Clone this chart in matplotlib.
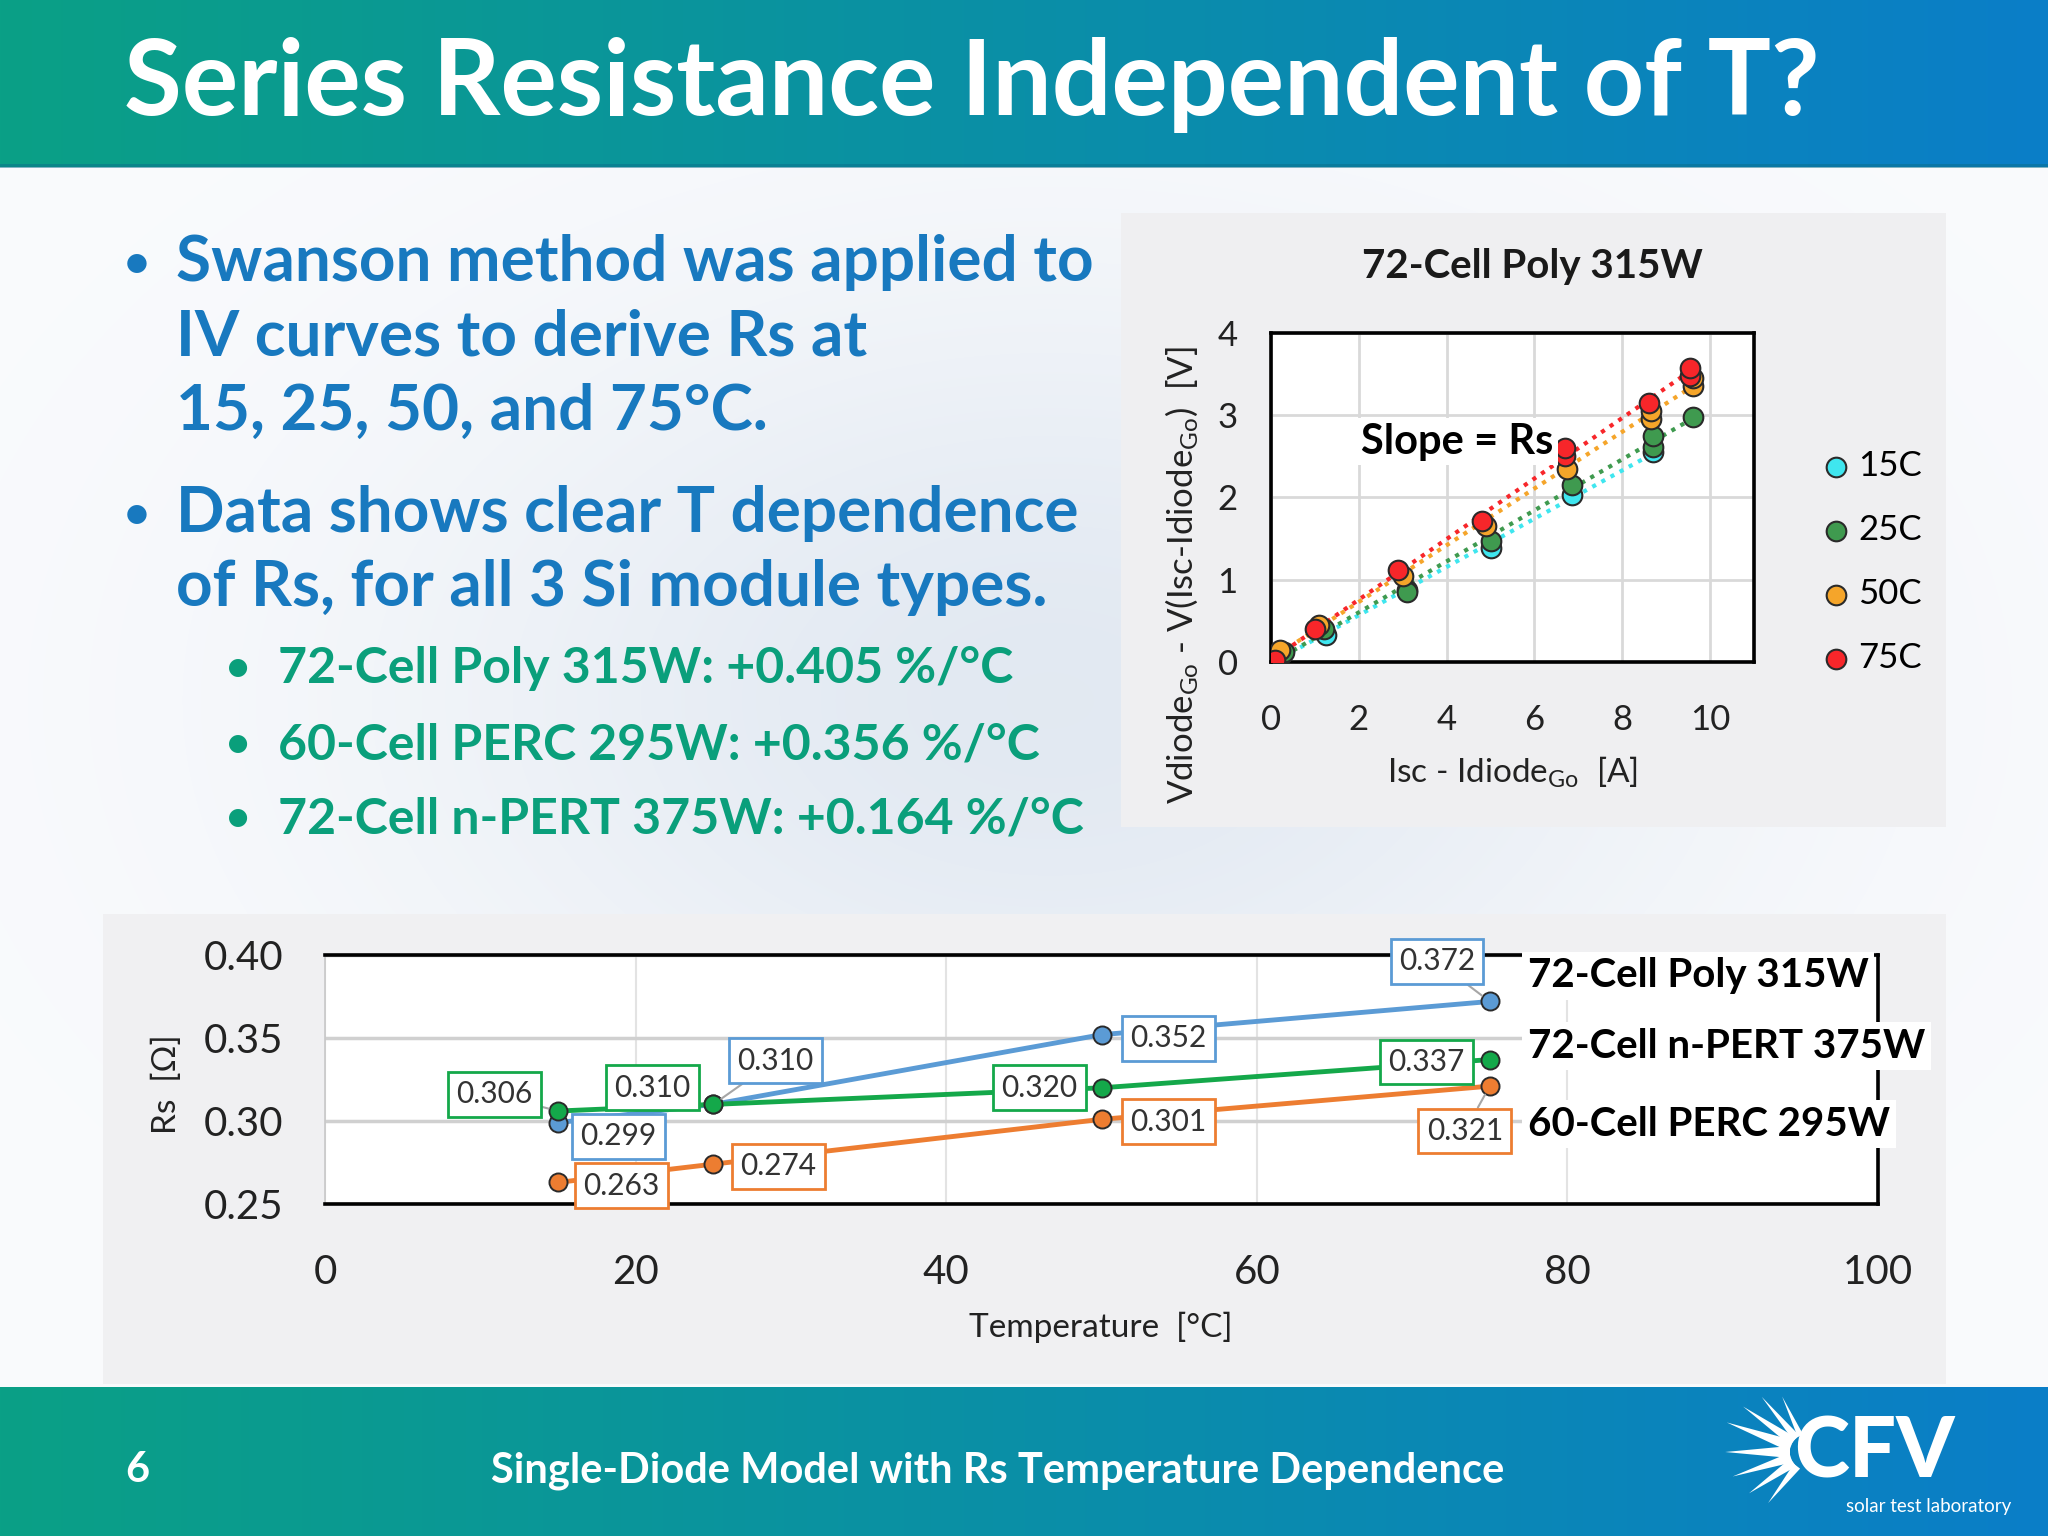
import numpy as np
import matplotlib
matplotlib.use("Agg")
import matplotlib.pyplot as plt
from matplotlib.patches import Rectangle, Polygon

plt.rcParams['font.family'] = ['Lato', 'DejaVu Sans']
plt.rcParams['mathtext.fontset'] = 'custom'
plt.rcParams['mathtext.rm'] = 'Lato'
plt.rcParams['mathtext.it'] = 'Lato:italic'
plt.rcParams['mathtext.bf'] = 'Lato:bold'

W, H = 2048, 1536

# ---------------- text content ----------------
slide_title = "Series Resistance Independent of T?"
main_bullets = [["Swanson method was applied to", "IV curves to derive Rs at", "15, 25, 50, and 75°C."],
                ["Data shows clear T dependence", "of Rs, for all 3 Si module types."]]
sub_bullets = ["72-Cell Poly 315W: +0.405 %/°C",
               "60-Cell PERC 295W: +0.356 %/°C",
               "72-Cell n-PERT 375W: +0.164 %/°C"]
footer_num = "6"
footer_text = "Single-Diode Model with Rs Temperature Dependence"

# ---------------- Swanson plot data (72-Cell Poly 315W) ----------------
sw_title = "72-Cell Poly 315W"
sw_labels = ["15C", "25C", "50C", "75C"]
sw_x15 = [0.25, 1.25, 3.1, 5.0, 6.85, 8.7]
sw_y15 = [0.10, 0.33, 0.88, 1.38, 2.03, 2.55]
sw_x25 = [0.3, 1.2, 3.1, 5.0, 6.85, 8.7, 8.7, 9.6]
sw_y25 = [0.12, 0.40, 0.85, 1.47, 2.15, 2.62, 2.75, 2.98]
sw_x50 = [0.2, 1.1, 3.0, 4.9, 6.75, 8.65, 8.65, 9.6, 9.6]
sw_y50 = [0.15, 0.45, 1.05, 1.65, 2.35, 2.95, 3.05, 3.35, 3.45]
sw_x75 = [0.1, 1.0, 2.9, 4.8, 6.7, 6.7, 8.6, 9.55, 9.55]
sw_y75 = [0.03, 0.40, 1.12, 1.72, 2.50, 2.60, 3.15, 3.48, 3.57]

# ---------------- Rs vs temperature data ----------------
temps = [15, 25, 50, 75]
rs_poly = [0.299, 0.310, 0.352, 0.372]
rs_npert = [0.306, 0.310, 0.320, 0.337]
rs_perc = [0.263, 0.274, 0.301, 0.321]
series_names = ["72-Cell Poly 315W", "72-Cell n-PERT 375W", "60-Cell PERC 295W"]

# ---------------- layout / style ----------------
c_band_l = np.array([10, 160, 134]) / 255
c_band_r = np.array([10, 126, 200]) / 255
blue_txt = "#1879bf"
green_txt = "#0a9f7b"
sw_colors = ["#3fe6ef", "#3f9a4f", "#f5a52a", "#f7262a"]
rs_colors = ["#5b9bd5", "#14a84a", "#ed7d31"]

fig = plt.figure(figsize=(20.48, 15.36), dpi=100)

# background canvas in pixel coordinates
bg = fig.add_axes([0, 0, 1, 1], zorder=-5)
bg.set_axis_off()
bg.set_xlim(0, W)
bg.set_ylim(H, 0)
yy, xx = np.mgrid[0:H, 0:W].astype(float)
base = np.array([250, 251, 253]) / 255
tint = np.array([222, 230, 240]) / 255
g = np.exp(-(((xx - 1050) / 650) ** 2 + ((yy - 700) / 420) ** 2))
img = base[None, None, :] * (1 - g[..., None] * 0.85) + tint[None, None, :] * (g[..., None] * 0.85)
t = (xx / W)[..., None]
band = c_band_l * (1 - t) + c_band_r * t
img[0:167] = band[0:167]
img[1387:] = band[1387:]
bg.imshow(img, extent=(0, W, H, 0), aspect='auto', interpolation='bilinear')
bg.add_patch(Rectangle((0, 164), W, 4, color="#0b6f8a", alpha=0.5, lw=0))

# grey chart panels
bg.add_patch(Rectangle((1121, 213), 825, 614, facecolor="#efeff1", edgecolor="none"))
bg.add_patch(Rectangle((103, 914), 1843, 470, facecolor="#f0f0f2", edgecolor="none"))

# title
bg.text(124, 115, slide_title, color="white", fontsize=76, fontweight="bold", va="baseline", ha="left")

# bullets
main_baselines = [[281, 355, 430], [532, 606]]
for lines, bls in zip(main_bullets, main_baselines):
    bg.text(124, bls[0] - 4, "•", color=blue_txt, fontsize=32, fontweight="bold", va="baseline", ha="left")
    for ln, b in zip(lines, bls):
        bg.text(176, b, ln, color=blue_txt, fontsize=46, fontweight="bold", va="baseline", ha="left")
for ln, b in zip(sub_bullets, [683, 759, 833]):
    bg.text(226, b - 2, "•", color=green_txt, fontsize=30, fontweight="bold", va="baseline", ha="left")
    bg.text(278, b, ln, color=green_txt, fontsize=36, fontweight="bold", va="baseline", ha="left")

# footer
bg.text(125, 1482, footer_num, color="white", fontsize=30, fontweight="bold", va="baseline")
bg.text(998, 1482, footer_text, color="white", fontsize=30, fontweight="bold", va="baseline", ha="center")
# logo
rays = [(-160, 6, 1.9), (-145, 5, 1.7), (-130, 4, 1.5), (-180, 6, 1.8), (-198, 5, 1.7),
        (-215, 5, 1.5), (-232, 4, 1.3), (-115, 3, 1.2)]
cx, cy = 1808, 1452
for ang, wdt, rel in rays:
    a = np.deg2rad(ang)
    r0, r1 = 18, 18 + 36 * rel
    ux, uy = np.cos(a), np.sin(a)
    px, py = -uy, ux
    pts = [(cx + r0 * ux + wdt * px, cy + r0 * uy + wdt * py),
           (cx + r0 * ux - wdt * px, cy + r0 * uy - wdt * py),
           (cx + r1 * ux, cy + r1 * uy)]
    bg.add_patch(Polygon(pts, closed=True, facecolor="white", edgecolor="none"))
bg.text(1794, 1478, "CFV", color="white", fontsize=60, fontweight="black", va="baseline", ha="left")
bg.text(2011, 1512, "solar test laboratory", color="white", fontsize=13.5, va="baseline", ha="right")

# ---------------- Swanson chart ----------------
ax1 = fig.add_axes([1271 / W, 1 - 662 / H, 483 / W, 329 / H])
ax1.set_xlim(0, 11)
ax1.set_ylim(0, 4)
ax1.set_xticks([0, 2, 4, 6, 8, 10])
ax1.set_yticks([0, 1, 2, 3, 4])
ax1.grid(True, color="#d9d9d9", lw=2)
ax1.set_axisbelow(True)
for s in ax1.spines.values():
    s.set_color("black")
    s.set_linewidth(2.6)
ax1.tick_params(length=0, labelsize=25, colors="#222222")
ax1.tick_params(axis="x", pad=30)
ax1.tick_params(axis="y", pad=24)
handles = []
for xs, ys, col, lab in zip([sw_x15, sw_x25, sw_x50, sw_x75], [sw_y15, sw_y25, sw_y50, sw_y75],
                            sw_colors, sw_labels):
    xs = np.asarray(xs)
    ys = np.asarray(ys)
    p = np.polyfit(xs, ys, 1)
    xe = np.array([xs.min(), xs.max()])
    ax1.plot(xe, np.polyval(p, xe), ls=(0, (1, 1.5)), lw=3, color=col, zorder=2)
for xs, ys, col, lab in zip([sw_x15, sw_x25, sw_x50, sw_x75], [sw_y15, sw_y25, sw_y50, sw_y75],
                            sw_colors, sw_labels):
    h = ax1.scatter(xs, ys, s=200, color=col, edgecolors="#2a2a2a", linewidths=1.5, zorder=3, label=lab)
    handles.append(h)
ax1.text(2.05, 2.68, "Slope = Rs", fontsize=30, fontweight="bold", color="black", va="center", ha="left",
         bbox=dict(facecolor="white", edgecolor="none", pad=3), zorder=4)
bg.text(1532, 278, sw_title, fontsize=29, fontweight="bold", color="#1a1a1a", ha="center", va="baseline")
bg.text(1182, 575, r"Vdiode$_{\mathrm{Go}}$ - V(Isc-Idiode$_{\mathrm{Go}}$)  [V]", fontsize=25,
        rotation=90, ha="center", va="center", color="#222222")
bg.text(1512, 772, r"Isc - Idiode$_{\mathrm{Go}}$  [A]", fontsize=24, ha="center", va="center", color="#222222")
fig.legend(handles=handles, labels=sw_labels, loc="center left", bbox_to_anchor=(1806 / W, 1 - 562 / H),
           frameon=False, fontsize=25, handlelength=0.7, handletextpad=0.3, labelspacing=0.92,
           borderpad=0, markerscale=1.0)

# ---------------- Rs vs T chart ----------------
ax2 = fig.add_axes([325 / W, 1 - 1204 / H, 1553 / W, 249 / H])
ax2.set_xlim(0, 100)
ax2.set_ylim(0.25, 0.40)
ax2.set_xticks([0, 20, 40, 60, 80, 100])
ax2.set_yticks([0.25, 0.30, 0.35, 0.40])
ax2.set_yticklabels([f"{v:.2f}" for v in [0.25, 0.30, 0.35, 0.40]])
ax2.xaxis.grid(True, color="#e3e3e3", lw=1.5)
ax2.yaxis.grid(True, color="#d0d0d0", lw=2.5)
ax2.set_axisbelow(True)
for k in ["top", "right", "bottom"]:
    ax2.spines[k].set_color("black")
    ax2.spines[k].set_linewidth(2.6)
ax2.spines["left"].set_color("#c8c8c8")
ax2.spines["left"].set_linewidth(1.2)
ax2.tick_params(length=0, labelsize=29, colors="#222222")
ax2.tick_params(axis="x", pad=36)
ax2.tick_params(axis="y", pad=30)

label_pos = [
    [(18.9, 0.2908), (29.0, 0.3364), (54.3, 0.3497), (71.6, 0.3961)],
    [(10.9, 0.3160), (21.1, 0.3200), (46.0, 0.3200), (70.9, 0.3356)],
    [(19.1, 0.2610), (29.2, 0.2728), (54.3, 0.2995), (73.4, 0.2940)],
]
leaders = [[False, True, False, True], [True, False, False, False], [False, False, False, True]]
series = [rs_poly, rs_npert, rs_perc]
for vals, col, lp, ld in zip(series, rs_colors, label_pos, leaders):
    ax2.plot(temps, vals, color=col, lw=3.5, marker="o", ms=13, mfc=col, mec="#2a2a2a", mew=1.4, zorder=3,
             clip_on=False)
    for tx, v, pos, lead in zip(temps, vals, lp, ld):
        ap = dict(arrowstyle="-", color="#a6a6a6", lw=1.5, shrinkA=0, shrinkB=7) if lead else None
        ax2.annotate(f"{v:.3f}", xy=(tx, v), xytext=pos, textcoords="data", ha="center", va="center",
                     fontsize=21.5, color="#333333", zorder=5, annotation_clip=False,
                     bbox=dict(boxstyle="square,pad=0.28", facecolor="white", edgecolor=col, lw=2),
                     arrowprops=ap)

bg.text(1101, 1327, "Temperature  [°C]", fontsize=24, ha="center", va="center", color="#222222")
bg.text(167, 1084, "Rs  [Ω]", fontsize=24, rotation=90, ha="center", va="center", color="#222222")

# series name labels at the right end
name_y = [976, 1046, 1124]
for nm, y in zip(series_names, name_y):
    fig.text(1528 / W, 1 - y / H, nm, fontsize=29, fontweight="bold", color="black", ha="left", va="center",
             bbox=dict(facecolor="white", edgecolor="none", pad=4), zorder=6)

fig.savefig("out.png", dpi=100)
